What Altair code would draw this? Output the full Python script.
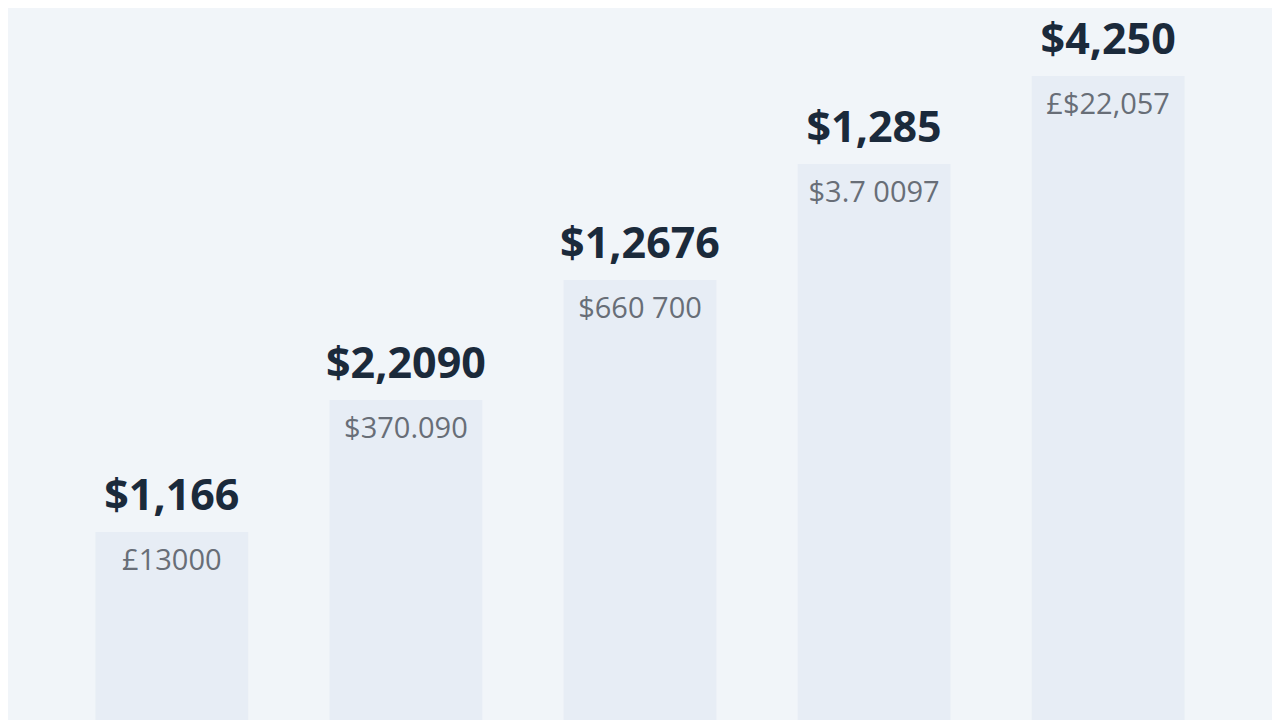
import altair as alt
import pandas as pd

categories = ["A", "B", "C", "D", "E"]
heights = [188, 320, 440, 556, 644]
top_labels = ["$1,166", "$2,2090", "$1,2676", "$1,285", "$4,250"]
inner_labels = ["£13000", "$370.090", "$660 700", "$3.7 0097", "£$22,057"]

df = pd.DataFrame({"cat": categories, "h": heights, "top": top_labels, "inner": inner_labels})

x = alt.X("cat:N", axis=None, sort=categories,
          scale=alt.Scale(paddingInner=0.347, paddingOuter=0.3735))
y = alt.Y("h:Q", axis=None, scale=alt.Scale(domain=[0, 712], nice=False, zero=True))

bars = alt.Chart(df).mark_bar(color="#e7edf5", cornerRadius=0).encode(x=x, y=y)

top_text = alt.Chart(df).mark_text(
    font="Open Sans", fontWeight="bold", fontSize=43, color="#1b2a3b",
    baseline="middle", dy=-35
).encode(x=x, y=y, text="top:N")

inner_text = alt.Chart(df).mark_text(
    font="Open Sans", fontSize=29, color="#686e77",
    baseline="middle", dy=29
).encode(x=x, y=y, text="inner:N")

chart = alt.layer(bars, top_text, inner_text).properties(
    width=1264, height=712, padding=0, background="#f1f5f9",
    autosize=alt.AutoSizeParams(type="none")
).configure_view(stroke=None, fill="#f1f5f9")

chart.save("out.html", embed_options={"renderer": "svg", "actions": False})
